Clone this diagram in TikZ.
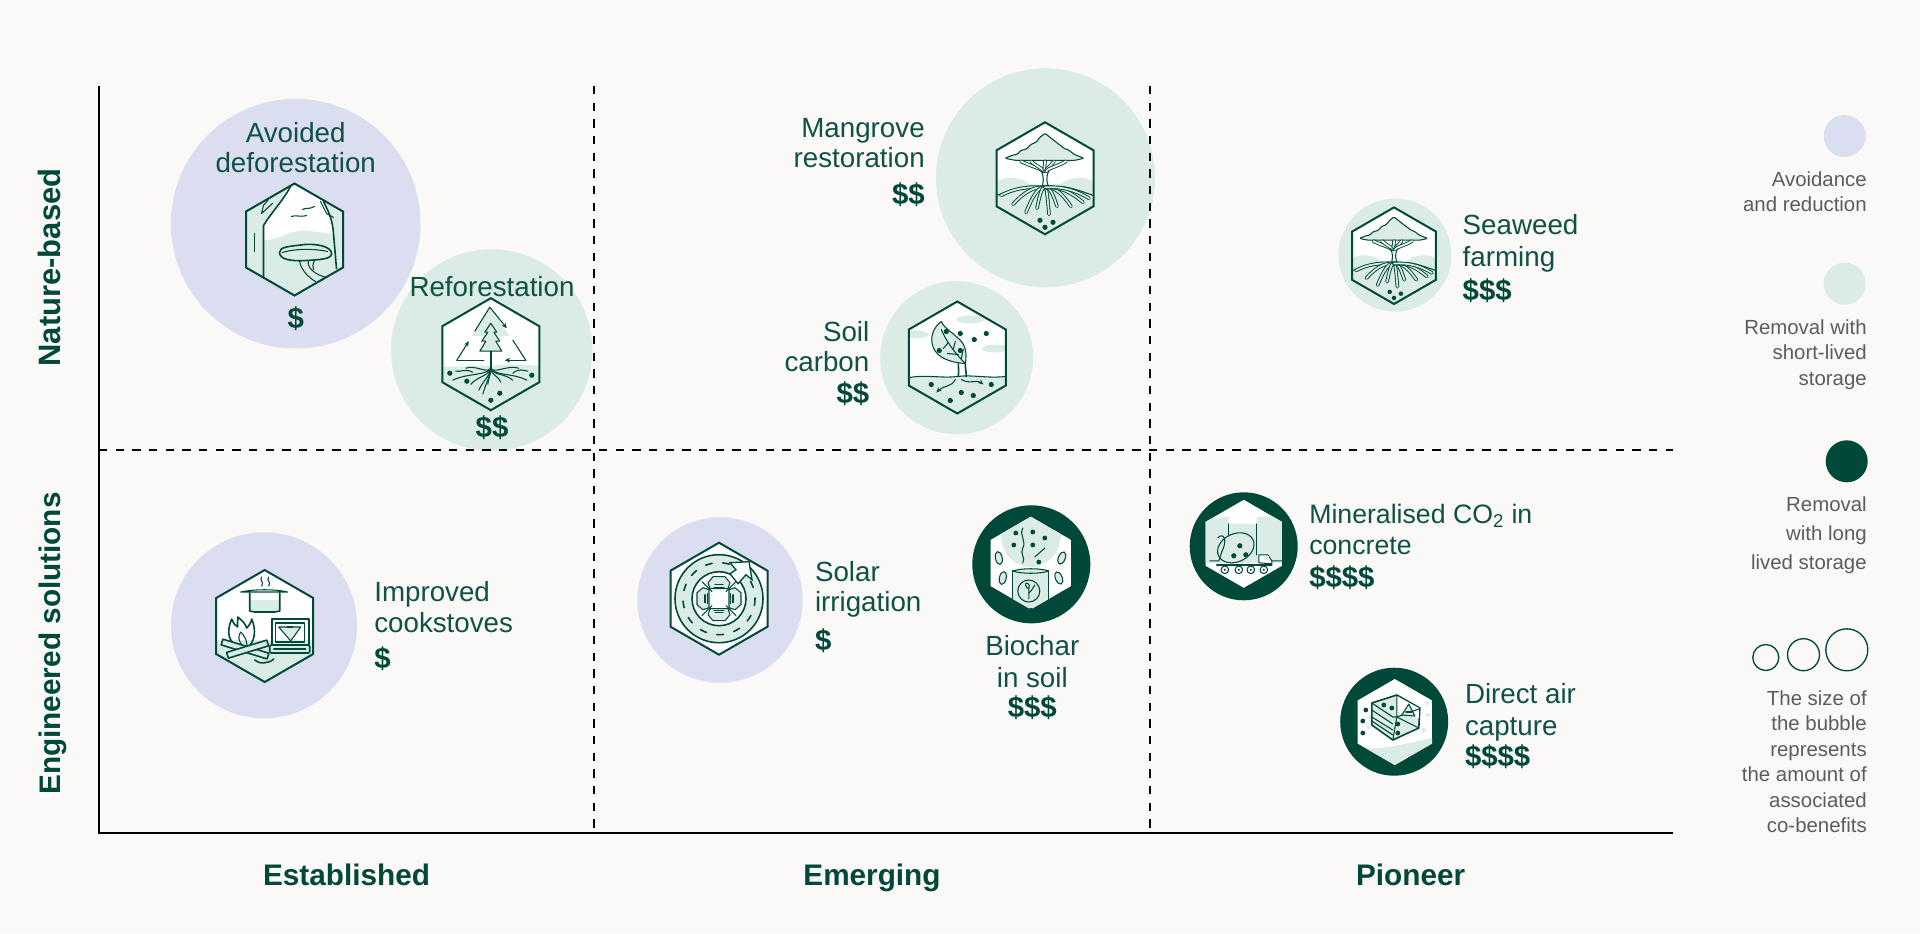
\documentclass[tikz,border=0pt]{standalone}
\usepackage{fontspec}
\setmainfont{Liberation Sans}
\usetikzlibrary{arrows.meta}
\definecolor{bgc}{HTML}{FAF9F7}
\definecolor{dk}{HTML}{004838}
\definecolor{txtc}{HTML}{0F5245}
\definecolor{ltg}{HTML}{DAECE5}
\definecolor{lav}{HTML}{DADEF0}
\definecolor{greyc}{HTML}{5C5C5C}
\newcommand{\hexpath}[1]{(90:#1) -- (30:#1) -- (-30:#1) -- (-90:#1) -- (-150:#1) -- (150:#1) -- cycle}
\tikzset{
  bubble/.style={circle,minimum size=#1*0.75pt,inner sep=0pt,outer sep=0pt},
  lbl/.style={text=txtc,inner sep=0pt,outer sep=0pt,yshift=-0.9pt,font=\fontsize{20.8}{22.5}\selectfont},
  lblw/.style={text=txtc,inner sep=0pt,outer sep=0pt,yshift=-0.9pt,font=\fontsize{20.8}{23.6}\selectfont},
  cost/.style={text=dk,inner sep=0pt,outer sep=0pt,anchor=base,font=\fontsize{22}{24}\selectfont\bfseries},
  axlbl/.style={text=dk,inner sep=0pt,outer sep=0pt,anchor=base,font=\fontsize{22.3}{24}\selectfont\bfseries},
  leg/.style={text=greyc,inner sep=0pt,outer sep=0pt,align=right,font=\fontsize{15.3}{19.1}\selectfont},
  ln/.style={draw=dk,line width=1.2pt,line join=round,line cap=round},
  tn/.style={draw=dk,line width=0.8pt,line join=round,line cap=round},
  hexo/.style={draw=dk,line width=1.5pt,line join=miter},
  rootl/.style={draw=dk,line width=0.7pt,double=ltg,double distance=1.3pt,line cap=round},
  arr/.style={tn,-{Stealth[length=4pt,width=3.5pt]}},
  dsh/.style={draw=black,line width=1.6pt,dash pattern=on 6.2pt off 6.3pt},
  axisl/.style={draw=black,line width=1.5pt},
  % ------------------------- icons, drawn for a hexagon of radius 56
  avoidpic/.pic={
    \begin{scope}
      \clip \hexpath{56};
      \fill[ltg] \hexpath{56};
      \fill[white] (-31,1) -- (-31,-14) .. controls (-24,-26) and (-12,-38) .. (-5,-56) -- (0,-56) -- (24,-42) -- (29,-38) .. controls (34,-28) and (38,-20) .. (39,-6) .. controls (28,-6) and (18,-9) .. (9,-9) .. controls (-5,-9) and (-15,0) .. (-31,1) -- cycle;
    \end{scope}
    \draw[ln] (-31,37) -- (-31,-14) .. controls (-24,-26) and (-12,-38) .. (-4,-53);
    \draw[ln] (29,-38) .. controls (34,-28) and (38,-20) .. (39,-6) -- (42,29);
    \draw[tn] (-31,-34) -- (-33,-26) -- (-22,-36) (-26,-40) -- (-31,-34);
    \draw[tn] (26,-38) -- (32,-26) -- (39,-22);
    \draw[tn] (-40,-6) -- (-40,12);
    \draw[tn] (8,-30) .. controls (11,-32) and (15,-30) .. (20,-33);
    \draw[tn] (-3,-23) .. controls (1,-25) and (5,-22) .. (12,-24);
    \draw[ln,fill=ltg] (-15,13) .. controls (-15,7) and (-5,7) .. (10,5) .. controls (22,4) and (37,7) .. (37,14) .. controls (37,20) and (25,20) .. (12,21) .. controls (-3,22) and (-15,20) .. (-15,13) -- cycle;
    \draw[tn] (-12,13) .. controls (0,9) and (20,9) .. (33,12);
    \draw[tn] (5,21) .. controls (6,30) and (14,38) .. (21,42);
    \draw[tn] (14,21) .. controls (12,28) and (20,35) .. (32,38);
    \draw[tn] (20,21) .. controls (18,25) and (18,27) .. (19,30);
    \draw[hexo] \hexpath{56};
  },
  refpic/.pic={
    \begin{scope}
      \clip \hexpath{56};
      \fill[white] \hexpath{56};
      \fill[ltg] (-1,-47) -- (19,-18) -- (-19,-18) -- cycle;
      \fill[ltg] (-50,12) .. controls (-20,14) and (20,8) .. (50,12) -- (50,60) -- (-50,60) -- cycle;
    \end{scope}
    \draw[tn] (-16,-23) -- (-1,-47);
    \draw[arr] (-1,-47) -- (16,-26);
    \draw[tn] (22,-14) -- (35,6);
    \draw[arr] (35,6) -- (14,6);
    \draw[tn] (-7,6) -- (-34,6);
    \draw[arr] (-34,6) -- (-22,-13);
    \draw[tn,fill=ltg] (0,-31) -- (-6,-22) -- (-3,-22) -- (-9,-13) -- (-5,-13) -- (-11,-3) -- (11,-3) -- (5,-13) -- (9,-13) -- (3,-22) -- (6,-22) -- cycle;
    \draw[ln] (0,-3) -- (0,12);
    \foreach \a/\b/\c/\d in {0/12/-12/36, 0/12/-25/14, 0/12/-8/40, 0/12/10/28, 0/12/22/26, 0/12/28/14, 0/12/36/26, 0/12/-38/26, 0/12/-3/30, 0/12/-20/30}{
      \draw[tn] (\a,\b) .. controls (\a,\b+10) and (\c*0.6,\d*0.7) .. (\c,\d);
    }
    \draw[tn] (-18,18) .. controls (-26,14) and (-30,18) .. (-35,17);
    \draw[tn] (22,19) .. controls (28,14) and (32,16) .. (37,17);
    \foreach \p in {(-41,19),(-24,27),(9,39),(0,46),(41,21)} \fill[dk] \p circle (2.6);
    \draw[hexo] \hexpath{56};
  },
  mangpic/.pic={
    \begin{scope}
      \clip \hexpath{56};
      \fill[white] \hexpath{56};
      \fill[ltg] (-50,4) .. controls (-40,-2) and (-30,-2) .. (-20,3) .. controls (-14,7) and (-10,8) .. (0,8) .. controls (10,8) and (14,7) .. (20,3) .. controls (30,-2) and (40,-2) .. (50,4) -- (50,60) -- (-50,60) -- cycle;
    \end{scope}
    \draw[tn] (-48,17) .. controls (-36,13) and (-24,8) .. (-12,8);
    \draw[tn] (48,17) .. controls (36,13) and (24,8) .. (12,8);
    \draw[tn,fill=ltg,rounded corners=0.8pt] (-40,-20) -- (-33,-23) -- (-28,-24) -- (-24,-28) -- (-19,-29) -- (-14,-34) -- (-9,-36) -- (-5,-41) -- (0,-45) -- (5,-41) -- (10,-37) -- (14,-34) -- (19,-30) -- (24,-28) -- (29,-24) -- (34,-22) -- (39,-20) -- (30,-18) -- (-30,-18) -- cycle;
    \foreach \x/\y in {-24/-6,-14/-4,0/-2,9/2,21/4}{
      \draw[rootl,double=white] (\x,-17) .. controls (\x*0.6,-12) and (\y*0.7,-10) .. (\y*0.3,-7);
    }
    \draw[tn] (-4,-8) .. controls (-1,-2) and (-1,3) .. (-4,12);
    \draw[tn] (4,-8) .. controls (1,-2) and (1,3) .. (5,12);
    \foreach \c/\d in {-44/17,-32/26,-19/34,-8/30,4/36,12/28,26/28,38/24,44/20}{
      \draw[rootl] (0,9) .. controls (\c*0.4,8) and (\c*0.7,\d*0.6) .. (\c,\d);
    }
    \foreach \p in {(-5,42),(8,44),(0,49)} \fill[dk] \p circle (2.6);
    \draw[hexo] \hexpath{56};
  },
  soilpic/.pic={
    \begin{scope}
      \clip \hexpath{56};
      \fill[white] \hexpath{56};
      \fill[ltg] (13,-38) ellipse (14 and 4);
      \fill[ltg] (-40,-23) ellipse (11 and 4);
      \fill[ltg] (38,-9) ellipse (13 and 4);
      \fill[ltg] (-50,19) -- (50,19) -- (50,60) -- (-50,60) -- cycle;
    \end{scope}
    \draw[tn] (-48,20) .. controls (-30,17) and (-15,21) .. (0,19) .. controls (15,17) and (30,21) .. (48,19);
    \draw[tn,fill=ltg] (-16,-36) .. controls (-24,-30) and (-28,-20) .. (-24,-10) .. controls (-20,0) and (-8,5) .. (8,6) .. controls (10,-5) and (8,-14) .. (0,-20) .. controls (-6,-26) and (-12,-28) .. (-16,-36) -- cycle;
    \draw[tn] (-16,-28) .. controls (-12,-18) and (-4,-6) .. (8,6);
    \draw[tn] (-9,-15) -- (-14,-9) (-4,-8) -- (-2,-16) (1,-3) -- (-10,-4) (4,1) -- (6,-8);
    \draw[ln] (8,6) .. controls (8,12) and (9,14) .. (9,19);
    \draw[ln] (1,6) .. controls (1,12) and (2,15) .. (1,19);
    \draw[arr] (4,22) .. controls (12,27) and (20,22) .. (26,27);
    \draw[arr] (-2,22) .. controls (-6,30) and (-14,28) .. (-21,35);
    \foreach \p in {(-11,-26),(3,-24),(17,-18),(29,-24),(-18,-7),(3,-7),(-26,27),(34,27),(4,35),(16,38),(-7,43)} \fill[dk] \p circle (2.6);
    \draw[hexo] \hexpath{56};
  },
  cookpic/.pic={
    \begin{scope}
      \clip \hexpath{56};
      \fill[white] \hexpath{56};
      \fill[ltg] (-50,14) rectangle (50,60);
      \fill[ltg] (-15,-26) rectangle (15,-14);
    \end{scope}
    \draw[tn] (-3,-49) .. controls (-6,-46) and (0,-44) .. (-3,-40);
    \draw[tn] (4,-49) .. controls (1,-46) and (7,-44) .. (4,-40);
    \draw[tn] (-24,-34) .. controls (-10,-37) and (10,-37) .. (23,-34) -- (-24,-34);
    \draw[ln] (-15,-33) -- (-15,-15) -- (-10,-14) -- (10,-14) -- (15,-15) -- (15,-33);
    \draw[ln] (-23,22) .. controls (-38,17) and (-38,5) .. (-33,-7) .. controls (-31,-2) and (-29,0) .. (-27,1) .. controls (-28,-5) and (-26,-6) .. (-27,-9) .. controls (-23,-6) and (-19,-2) .. (-18,2) .. controls (-15,-1) and (-13,-5) .. (-13,-7) .. controls (-8,5) and (-10,15) .. (-17,22);
    \draw[tn] (-20,22) .. controls (-27,15) and (-27,10) .. (-24,6) .. controls (-20,10) and (-17,15) .. (-18,22);
    \draw[ln,fill=ltg,rotate around={-17:(-20,24)}] (-44,20) rectangle (4,26);
    \draw[ln,fill=ltg,rotate around={17:(-20,24)}] (-38,21) rectangle (4,27);
    \draw[ln,fill=white] (7,-7) rectangle (44,19);
    \fill[ltg] (8,14) rectangle (43,18);
    \draw[tn] (11,-3) rectangle (40,16);
    \draw[tn,fill=ltg] (14,1) -- (36,1) -- (26,15) -- cycle;
    \fill[dk] (22,0) rectangle (28,2);
    \draw[ln,fill=ltg,rounded corners=1pt] (5,19) rectangle (45,27);
    \draw[tn] (9,23) -- (41,23);
    \draw[ln] (-10,34) .. controls (-6,38) and (4,38) .. (9,33);
    \draw[hexo] \hexpath{56};
  },
  solarpic/.pic={
    \fill[white] \hexpath{56};
    \fill[ltg] (0,0) circle (43);
    \draw[ln] (0,0) circle (44);
    \fill[white] (0,0) circle (27);
    \draw[ln,dash pattern=on 5pt off 8pt] (0,0) circle (36);
    \draw[ln] (0,0) circle (27);
    \foreach \a in {0,90,180,270}{
      \begin{scope}[rotate=\a]
        \draw[tn,fill=ltg] (-9,-10) -- (-11,-16) -- (-6,-22) -- (6,-22) -- (11,-16) -- (9,-10) -- cycle;
        \draw[tn] (-4,-14) -- (4,-14);
        \draw[tn] (-5,-11.5) -- (5,-11.5);
        \draw[tn] (7,-7) -- (17,-17);
      \end{scope}
    }
    \fill[white,draw=dk,line width=1pt] (11,-36) -- (30,-37) -- (33,-19) -- (27,-24) -- (19,-15) -- (11,-25) -- (17,-29) -- cycle;
    \draw[hexo] \hexpath{56};
  },
  biopic/.pic={
    \begin{scope}
      \clip \hexpath{46.3};
      \fill[white] \hexpath{46.3};
      \fill[ltg] (0,-28) ellipse (30 and 32);
    \end{scope}
    \foreach \p/\r in {(-32,-5)/12,(-28,15)/-12,(31,-5)/-22,(28,15)/22}{
      \draw[tn,fill=ltg,rotate around={\r:\p}] \p ellipse (3.4 and 6.5);
    }
    \begin{scope}
      \clip \hexpath{46.3};
      \draw[tn,fill=ltg] (-18,8) -- (-18,46) -- (18,46) -- (18,8) -- cycle;
      \draw[tn,fill=ltg] (-18,8) .. controls (-10,5) and (10,5) .. (18,8) .. controls (10,11) and (-10,11) .. (-18,8);
      \draw[tn] (-2,28) circle (11);
    \end{scope}
    \draw[tn] (-2,36) -- (-2,26) .. controls (-6,24) and (-6,20) .. (-4,20) .. controls (-1,21) and (-1,24) .. (-2,26);
    \draw[tn] (-2,30) .. controls (2,27) and (2,24) .. (4,22);
    \draw[tn] (-8,-35) .. controls (-12,-28) and (-4,-22) .. (-8,-15) .. controls (-11,-8) and (-5,-6) .. (-8,0);
    \draw[tn] (4,-6) -- (14,-15);
    \foreach \p in {(-15,-30),(2,-31),(14,-25),(-17,-18),(2,-18),(8,-1)} \fill[dk] \p circle (2.4);
  },
  minpic/.pic={
    \begin{scope}
      \clip \hexpath{44};
      \fill[white] \hexpath{44};
      \fill[ltg] (-40,-25) -- (-15,-27) -- (-15,-20) -- (13,-20) -- (13,-27) -- (40,-27) -- (40,19) -- (-40,19) -- cycle;
    \end{scope}
    \draw[tn] (-15,-20) -- (-15,-9);
    \draw[tn] (13,-20) -- (13,11);
    \draw[tn,fill=ltg,rotate around={25:(-8,4)}] (-8,4) ellipse (19 and 14);
    \draw[tn] (-26,-6) .. controls (-20,-12) and (-16,-4) .. (-22,8);
    \draw[tn] (-34,17) -- (-25,17) (-25,17) -- (-22,8) (28,17) -- (38,17);
    \draw[tn,fill=white] (15,19) -- (15,11) -- (24,11) -- (28,17) -- (28,20) -- cycle;
    \fill[ltg] (20,12) rectangle (25,16);
    \draw[ln] (-27,21) -- (28,21);
    \foreach \x in {-19,-5,7,20}{
      \draw[tn,fill=white] (\x,26) circle (3.8);
      \fill[dk] (\x,26) circle (1.2);
    }
    \foreach \p in {(-4,2),(-10,12),(2,11)} \fill[dk] \p circle (2.6);
  },
  dacpic/.pic={
    \begin{scope}
      \clip \hexpath{43};
      \fill[white] \hexpath{43};
      \fill[ltg] (-40,27) .. controls (-20,28) and (15,22) .. (40,15) -- (40,50) -- (-40,50) -- cycle;
    \end{scope}
    \foreach \p in {(32,-19),(33,-7),(29,8),(-24,-5),(-26,5)} \fill[ltg] \p circle (2);
    \draw[ln,fill=ltg] (-23,-19) -- (2,-27) -- (25,-14) -- (24,6) -- (-2,18) -- (-23,3) -- cycle;
    \fill[white] (2,-26) -- (24,-14) -- (24,-4) -- (2,-8) -- cycle;
    \draw[tn] (2,-27) -- (2,-5) -- (-2,18);
    \draw[tn] (2,-5) -- (24,6) (2,-5) -- (24,-13);
    \draw[tn] (-23,-19) -- (-2,-5) -- (2,-5);
    \draw[tn] (-23,-12) -- (-2,2);
    \draw[tn] (-23,-5) -- (-2,8);
    \draw[tn] (-23,-1) -- (-2,13);
    \draw[tn,fill=ltg] (7,-7) -- (14,-18) -- (20,-6) -- cycle;
    \draw[tn] (11,-10) -- (17,-10);
    \foreach \p in {(-11,-17),(-3,-14),(3,2),(3,11),(-29,-12),(-32,-1),(-32,11)} \fill[dk] \p circle (2.4);
  },
}
\begin{document}
\begin{tikzpicture}[x=0.75pt,y=-0.75pt]
\useasboundingbox (0,0) rectangle (1920,933);
\fill[bgc] (0,0) rectangle (1920,933);
% bubbles
\node[bubble=249.6,fill=lav] (bAvoid) at (295.7,223.7) {};
\node[bubble=201.4,fill=ltg] (bRefor) at (491.7,350) {};
\node[bubble=219,fill=ltg] (bMang) at (1045.5,177.8) {};
\node[bubble=153,fill=ltg] (bSoil) at (956.7,357.7) {};
\node[bubble=113,fill=ltg] (bSea) at (1395,255) {};
\node[bubble=186,fill=lav] (bCook) at (264,625.3) {};
\node[bubble=165.4,fill=lav] (bSolar) at (720,600) {};
\node[bubble=118,fill=dk] (bBio) at (1031.3,564.3) {};
\node[bubble=108,fill=dk] (bMin) at (1243.7,546.3) {};
\node[bubble=108,fill=dk] (bDac) at (1394.2,721.7) {};
% axes
\coordinate (o) at (99,833);
\coordinate (top) at (99,86);
\coordinate (right) at (1673,833);
\coordinate (hL) at (99,450);
\coordinate (hR) at (1673,450);
\coordinate (v1T) at (594,86);
\coordinate (v1B) at (594,833);
\coordinate (v2T) at (1150,86);
\coordinate (v2B) at (1150,833);
\draw[dsh] (hL) -- (hR);
\draw[dsh] (v1T) -- (v1B);
\draw[dsh] (v2T) -- (v2B);
\draw[axisl] (top) -- (o) -- (right);
% icons
\pic (iAvoid) at (294.5,239.5) {avoidpic};
\pic (iRefor) at (490.8,354.2) {refpic};
\pic (iMang) at (1045,178.3) {mangpic};
\pic (iSoil) at (957.3,357.5) {soilpic};
\pic[scale=0.8625] (iSea) at (1394,255.7) {mangpic};
\pic (iCook) at (264.7,626) {cookpic};
\pic (iSolar) at (719,598.7) {solarpic};
\pic (iBio) at (1030.8,563) {biopic};
\pic (iMin) at (1243.8,543.8) {minpic};
\pic (iDac) at (1394.8,722) {dacpic};
% labels (a node's base is that of its last line)
\node[lbl,anchor=base,align=center] (tAvoid) at (295.7,171.7) {Avoided\\deforestation};
\node[cost] (cAvoid) at (295.7,328) {\$};
\node[lbl,anchor=base] (tRefor) at (492,295) {Reforestation};
\node[cost] (cRefor) at (492,437) {\$\$};
\node[lbl,anchor=base east,align=right] (tMang) at (924.7,166.7) {Mangrove\\restoration};
\node[cost,anchor=base east] (cMang) at (924.7,204) {\$\$};
\node[lbl,anchor=base east,align=right] (tSoil) at (869.3,370) {Soil\\carbon};
\node[cost,anchor=base east] (cSoil) at (869.3,403) {\$\$};
\node[lblw,anchor=base west,align=left] (tSea) at (1462.7,265) {Seaweed\\farming};
\node[cost,anchor=base west] (cSea) at (1462.7,300) {\$\$\$};
\node[lblw,anchor=base west,align=left] (tCook) at (374.3,631.7) {Improved\\cookstoves};
\node[cost,anchor=base west] (cCook) at (374.3,668) {\$};
\node[lbl,anchor=base west,align=left] (tSolar) at (815,610) {Solar\\irrigation};
\node[cost,anchor=base west] (cSolar) at (815,650) {\$};
\node[lblw,anchor=base,align=center] (tBio) at (1032.3,686) {Biochar\\in soil};
\node[cost] (cBio) at (1032.3,717) {\$\$\$};
\node[lblw,anchor=base west,align=left,font=\fontsize{20}{23.6}\selectfont] (tMin) at (1309.3,553.3) {Mineralised CO\textsubscript{2} in\\concrete};
\node[cost,anchor=base west] (cMin) at (1309.3,587.3) {\$\$\$\$};
\node[lblw,anchor=base west,align=left] (tDac) at (1465,734) {Direct air\\capture};
\node[cost,anchor=base west] (cDac) at (1465,766) {\$\$\$\$};
% axis labels
\node[axlbl] (xEst) at (346.5,885) {Established};
\node[axlbl] (xEme) at (872,885) {Emerging};
\node[axlbl] (xPio) at (1410.6,885) {Pioneer};
\node[axlbl,rotate=90,font=\fontsize{23.2}{24}\selectfont\bfseries] (yNat) at (60,267.5) {Nature-based};
\node[axlbl,rotate=90] (yEng) at (60,643.5) {Engineered solutions};
% legend
\node[bubble=42,fill=lav] (lgA) at (1844.7,136) {};
\node[bubble=42,fill=ltg] (lgB) at (1844.7,283.7) {};
\node[bubble=42,fill=dk] (lgC) at (1846.7,461.3) {};
\node[leg,anchor=base east] (lgAt) at (1866.7,211.7) {Avoidance\\and reduction};
\node[leg,anchor=base east] (lgBt) at (1866.7,385) {Removal with\\short-lived\\storage};
\node[leg,anchor=base east,font=\fontsize{15.3}{21.4}\selectfont] (lgCt) at (1866.7,569) {Removal\\with long\\lived storage};
\node[bubble=26,draw=dk,line width=1pt] (sz1) at (1765.8,657.5) {};
\node[bubble=32,draw=dk,line width=1pt] (sz2) at (1803.5,654.7) {};
\node[bubble=42,draw=dk,line width=1pt] (sz3) at (1846.8,649.8) {};
\node[leg,anchor=base east] (szt) at (1866.7,832.7) {The size of\\the bubble\\represents\\the amount of\\associated\\co-benefits};
\end{tikzpicture}
\end{document}
